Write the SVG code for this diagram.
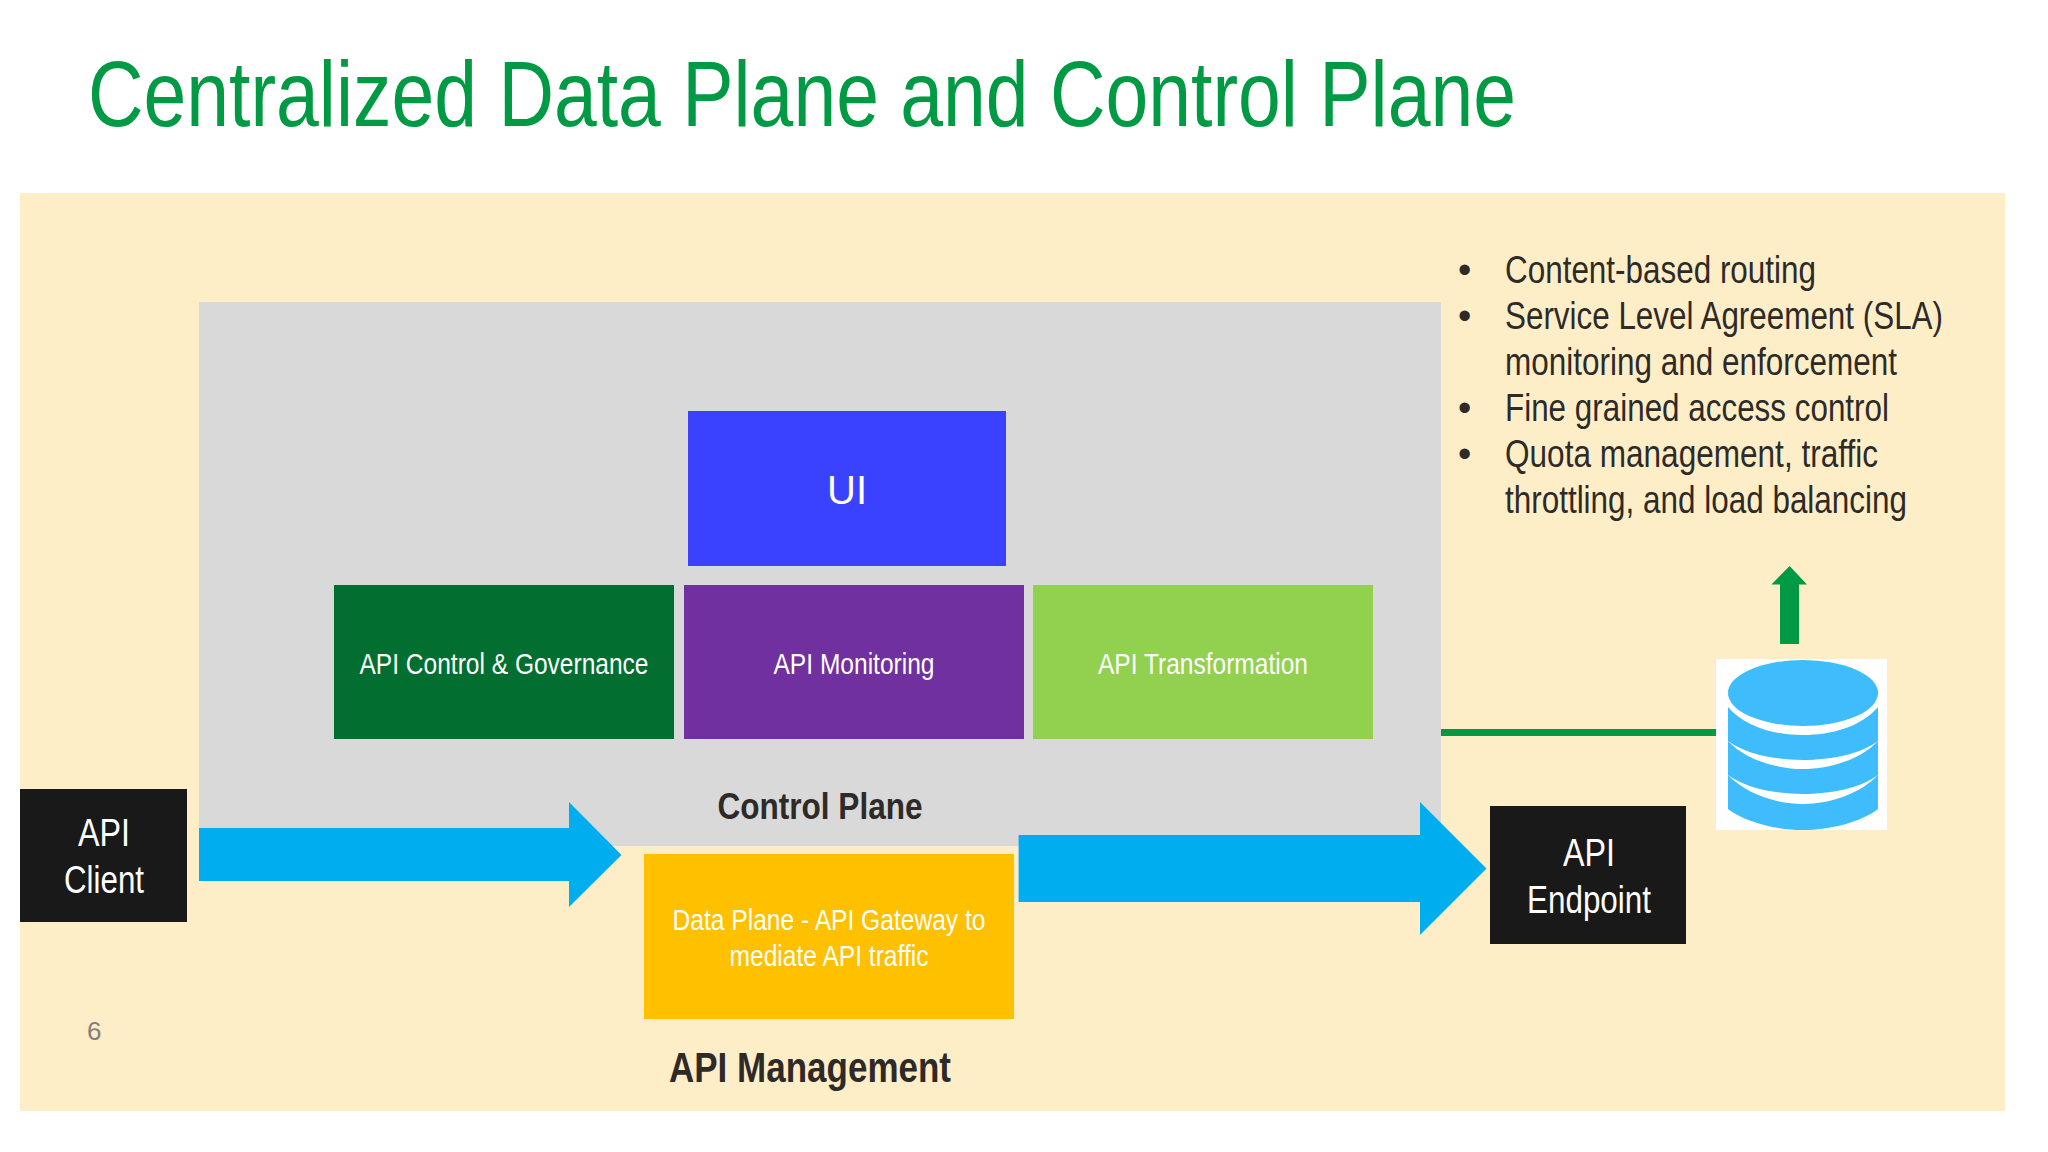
<svg xmlns="http://www.w3.org/2000/svg" width="2048" height="1152" viewBox="0 0 2048 1152">
<defs><style>
text{font-family:"Liberation Sans",Arial,sans-serif}
.mid{text-anchor:middle}
.w{fill:#fff}
.d{fill:#2d2a28}
.b{font-weight:700}
.blue{fill:#00aeef}
.blk{fill:#191919}
</style></defs>
<rect width="2048" height="1152" fill="#fff"/>
<text x="88" y="126" font-size="92" fill="#009a44" textLength="1428" lengthAdjust="spacingAndGlyphs">Centralized Data Plane and Control Plane</text>
<rect x="20" y="193" width="1985" height="918" fill="#feeec8"/>
<g id="control-plane"><rect x="199" y="302" width="1242" height="544" fill="#d9d9d9"/>
<text class="mid d b" x="820" y="819" font-size="37" textLength="205" lengthAdjust="spacingAndGlyphs">Control Plane</text></g>
<g id="ui"><rect x="688" y="411" width="318" height="155" fill="#3a41ff"/><text class="mid w" x="847" y="504" font-size="40">UI</text></g>
<g id="api-control"><rect x="334" y="585" width="340" height="154" fill="#026f30"/><text class="mid w" x="504" y="674" font-size="30" textLength="289" lengthAdjust="spacingAndGlyphs">API Control &amp; Governance</text></g>
<g id="api-monitoring"><rect x="684" y="585" width="340" height="154" fill="#7030a0"/><text class="mid w" x="854" y="674" font-size="30" textLength="161" lengthAdjust="spacingAndGlyphs">API Monitoring</text></g>
<g id="api-transformation"><rect x="1033" y="585" width="340" height="154" fill="#92d050"/><text class="mid w" x="1203" y="674" font-size="30" textLength="210" lengthAdjust="spacingAndGlyphs">API Transformation</text></g>
<g id="connectors">
<path class="blue" d="M199 828H569V802L621.5 855 569 907V881H199Z"/>
<path class="blue" d="M1018.6 835H1420V802L1486.5 868.6 1420 935V902H1018.6Z"/>
<rect x="1441" y="729" width="275" height="7" fill="#009a44"/>
<path fill="#009a44" d="M1780 644V584.500H1771.400L1789.600 566 1807 584.500H1799V644Z"/>
</g>
<g id="api-client"><rect class="blk" x="20" y="789" width="167" height="133"/>
<text class="mid w" x="104" y="846" font-size="38" textLength="52" lengthAdjust="spacingAndGlyphs">API</text>
<text class="mid w" x="104" y="893" font-size="38" textLength="80" lengthAdjust="spacingAndGlyphs">Client</text></g>
<g id="data-plane"><rect x="644" y="854" width="370" height="165" fill="#ffc000"/>
<text class="mid w" x="829" y="930" font-size="30" textLength="313" lengthAdjust="spacingAndGlyphs">Data Plane - API Gateway to</text>
<text class="mid w" x="829" y="966" font-size="30" textLength="199" lengthAdjust="spacingAndGlyphs">mediate API traffic</text></g>
<g id="api-endpoint"><rect class="blk" x="1490" y="806" width="196" height="138"/>
<text class="mid w" x="1589" y="866" font-size="38" textLength="52" lengthAdjust="spacingAndGlyphs">API</text>
<text class="mid w" x="1589" y="913" font-size="38" textLength="124" lengthAdjust="spacingAndGlyphs">Endpoint</text></g>
<g id="database"><rect x="1716" y="659" width="171" height="171" fill="#fff"/>
<ellipse cx="1803" cy="693" rx="75" ry="33" fill="#3fbcfb"/>
<path fill="#3fbcfb" d="M1728 707C1745 727 1775 735 1803 735S1861 727 1878 707V741C1861 754 1830 760 1803 760S1745 754 1728 741Z"/>
<path fill="#3fbcfb" d="M1728 741C1745 759 1775 769 1803 769S1861 759 1878 741V775C1861 788 1830 794 1803 794S1745 788 1728 775Z"/>
<path fill="#3fbcfb" d="M1728 775C1745 793 1775 804 1803 804S1861 793 1878 775V809C1861 822 1830 830 1803 830S1745 822 1728 809Z"/>
</g>
<g id="bullets" class="d" font-size="38">
<text x="1505" y="283" textLength="311" lengthAdjust="spacingAndGlyphs">Content-based routing</text>
<text x="1505" y="329" textLength="438" lengthAdjust="spacingAndGlyphs">Service Level Agreement (SLA)</text>
<text x="1505" y="375" textLength="392" lengthAdjust="spacingAndGlyphs">monitoring and enforcement</text>
<text x="1505" y="421" textLength="384" lengthAdjust="spacingAndGlyphs">Fine grained access control</text>
<text x="1505" y="467" textLength="373" lengthAdjust="spacingAndGlyphs">Quota management, traffic</text>
<text x="1505" y="513" textLength="402" lengthAdjust="spacingAndGlyphs">throttling, and load balancing</text>
<text x="1458" y="283">•</text><text x="1458" y="329">•</text><text x="1458" y="421">•</text><text x="1458" y="467">•</text>
</g>
<text x="87" y="1040" font-size="26" fill="#7f7f7f">6</text>
<text class="mid d b" x="810" y="1082" font-size="42" textLength="282" lengthAdjust="spacingAndGlyphs">API Management</text>
</svg>
